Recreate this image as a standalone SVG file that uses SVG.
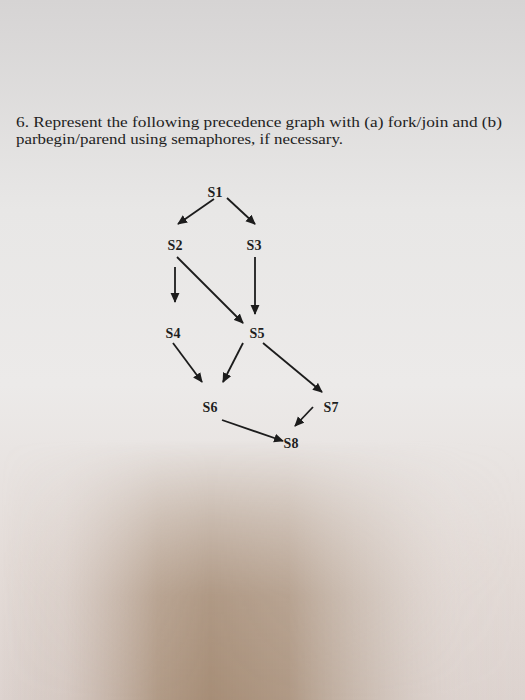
<svg xmlns="http://www.w3.org/2000/svg" width="525" height="700" viewBox="0 0 525 700">
<defs>
<linearGradient id="paper" x1="0" y1="0" x2="0" y2="1">
<stop offset="0" stop-color="#d6d4d4"/>
<stop offset="0.3" stop-color="#e8e7e6"/>
<stop offset="0.55" stop-color="#eceae9"/>
<stop offset="0.8" stop-color="#e4dcd8"/>
<stop offset="1" stop-color="#ddd3cf"/>
</linearGradient>
<linearGradient id="band" x1="0" y1="0" x2="525" y2="0" gradientUnits="userSpaceOnUse">
<stop offset="0" stop-color="#a8907a" stop-opacity="0"/>
<stop offset="0.12" stop-color="#b8a292" stop-opacity="0.2"/>
<stop offset="0.3" stop-color="#a99079" stop-opacity="0.85"/>
<stop offset="0.4" stop-color="#a68d76" stop-opacity="1"/>
<stop offset="0.55" stop-color="#aa927c" stop-opacity="0.9"/>
<stop offset="0.72" stop-color="#bfae9f" stop-opacity="0.5"/>
<stop offset="0.88" stop-color="#ddd2cb" stop-opacity="0.1"/>
<stop offset="1" stop-color="#ddd2cb" stop-opacity="0"/>
</linearGradient>
<linearGradient id="fadev" x1="0" y1="440" x2="0" y2="700" gradientUnits="userSpaceOnUse">
<stop offset="0" stop-color="#fff" stop-opacity="0"/>
<stop offset="0.3" stop-color="#fff" stop-opacity="0.45"/>
<stop offset="0.6" stop-color="#fff" stop-opacity="0.85"/>
<stop offset="1" stop-color="#fff" stop-opacity="1"/>
</linearGradient>
<mask id="m"><rect x="0" y="440" width="525" height="260" fill="url(#fadev)"/></mask>
<marker id="ah" viewBox="0 0 10 10" refX="9" refY="5" markerWidth="5.5" markerHeight="5.5" orient="auto" markerUnits="strokeWidth">
<path d="M0,0.5 L10,5 L0,9.5 z" fill="#1c1c1c"/>
</marker>
<style>
.q{font-family:"Liberation Serif","Times New Roman",serif;font-size:15.5px;fill:#1e1e1e}
.n{font-family:"Liberation Serif","Times New Roman",serif;font-size:14px;font-weight:bold;fill:#1e1e1e;text-anchor:middle}
.e{stroke:#1c1c1c;stroke-width:1.8;fill:none;marker-end:url(#ah)}
</style>
</defs>
<rect width="525" height="700" fill="url(#paper)"/>
<rect x="0" y="440" width="525" height="260" fill="url(#band)" mask="url(#m)"/>
<g id="question">
<text class="q" x="16" y="127" textLength="486" lengthAdjust="spacingAndGlyphs">6. Represent the following precedence graph with (a) fork/join and (b)</text>
<text class="q" x="16" y="144" textLength="327" lengthAdjust="spacingAndGlyphs">parbegin/parend using semaphores, if necessary.</text>
</g>
<g id="connectors">
<line class="e" x1="214" y1="199" x2="178" y2="224"/>
<line class="e" x1="227" y1="198" x2="255" y2="224"/>
<line class="e" x1="175" y1="267" x2="175" y2="302"/>
<line class="e" x1="177" y1="257" x2="243" y2="323"/>
<line class="e" x1="255" y1="257" x2="255" y2="314"/>
<line class="e" x1="173" y1="343" x2="202" y2="382"/>
<line class="e" x1="243" y1="343" x2="223" y2="382"/>
<line class="e" x1="263" y1="343" x2="322" y2="392"/>
<line class="e" x1="313" y1="407" x2="295" y2="426"/>
<line class="e" x1="222" y1="420" x2="283" y2="441"/>
</g>
<g id="S1"><text class="n" x="215" y="197">S1</text></g>
<g id="S2"><text class="n" x="175" y="250">S2</text></g>
<g id="S3"><text class="n" x="254" y="250">S3</text></g>
<g id="S4"><text class="n" x="173" y="338">S4</text></g>
<g id="S5"><text class="n" x="257" y="338">S5</text></g>
<g id="S6"><text class="n" x="210" y="412">S6</text></g>
<g id="S7"><text class="n" x="331" y="412">S7</text></g>
<g id="S8"><text class="n" x="291" y="448">S8</text></g>
</svg>
